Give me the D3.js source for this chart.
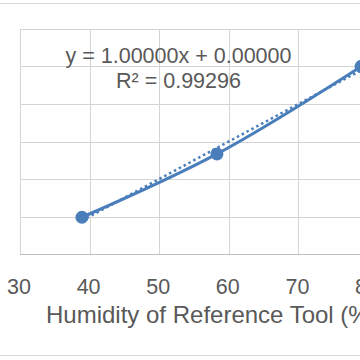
<!DOCTYPE html>
<html>
<head>
<meta charset="utf-8">
<script src="https://cdn.jsdelivr.net/npm/d3@7"></script>
<style>
  body { margin: 0; background: #fff; }
  text { font-family: "Liberation Sans", Arial, sans-serif; fill: #595959; }
</style>
</head>
<body>
<svg id="chart" width="360" height="360"></svg>
<script>
// values
const refHumidity = [38.9, 58.3, 79.0];     // x: reference tool (%)
const devHumidity = [39.8, 56.7, 80.0];     // y: device under test (%)
const xTicks = [30, 40, 50, 60, 70, 80, 90];
const yTicks = [30, 40, 50, 60, 70, 80, 90];
const trendSlope = 1.0;
const trendIntercept = 0.0;
const eqLines = ["y = 1.00000x + 0.00000", "R² = 0.99296"];
const xTitle = "Humidity of Reference Tool (%)";

const svg = d3.select("#chart");
const blue = "#4a7ebb";

svg.append("rect").attr("width", 360).attr("height", 360).attr("fill", "#fff");

// chart area border (only top and bottom are inside the crop)
svg.append("line").attr("x1", 0).attr("x2", 360).attr("y1", 3.5).attr("y2", 3.5)
    .attr("stroke", "#d9d9d9").attr("stroke-width", 1);
svg.append("line").attr("x1", 0).attr("x2", 360).attr("y1", 355.5).attr("y2", 355.5)
    .attr("stroke", "#d9d9d9").attr("stroke-width", 1);

const x = d3.scaleLinear().domain([30, 90]).range([20, 20 + 6 * 69.6]);
const y = d3.scaleLinear().domain([30, 90]).range([254, 29]);

// gridlines
svg.append("g").selectAll("line").data(xTicks).join("line")
    .attr("x1", d => Math.round(x(d)) + 0.5).attr("x2", d => Math.round(x(d)) + 0.5)
    .attr("y1", y(90)).attr("y2", y(30))
    .attr("stroke", "#d4d4d4");
svg.append("g").selectAll("line").data(yTicks).join("line")
    .attr("x1", x(30)).attr("x2", x(90))
    .attr("y1", d => Math.round(y(d)) + 0.5).attr("y2", d => Math.round(y(d)) + 0.5)
    .attr("stroke", d => d === 30 ? "#bfbfbf" : "#d4d4d4");

// x tick labels
svg.append("g").selectAll("text").data(xTicks).join("text")
    .attr("x", d => x(d) - 1)
    .attr("y", 294)
    .attr("text-anchor", "middle")
    .attr("font-size", 21.5)
    .text(d => d);

// axis title (runs past the right edge, as in the crop)
svg.append("text")
    .attr("x", 46)
    .attr("y", 323)
    .attr("font-size", 24)
    .text(xTitle);

const pts = refHumidity.map((d, i) => [d, devHumidity[i]]);

// linear trendline (dotted)
const tx = d3.extent(refHumidity);
svg.append("line")
    .attr("x1", x(tx[0])).attr("y1", y(trendSlope * tx[0] + trendIntercept))
    .attr("x2", x(tx[1])).attr("y2", y(trendSlope * tx[1] + trendIntercept))
    .attr("stroke", "#4a7ebb")
    .attr("stroke-width", 2.5)
    .attr("stroke-dasharray", "2.5,3");

// smoothed series line
const line = d3.line()
    .x(d => x(d[0]))
    .y(d => y(d[1]))
    .curve(d3.curveCatmullRom.alpha(0.5));
svg.append("path")
    .datum(pts)
    .attr("d", line)
    .attr("fill", "none")
    .attr("stroke", blue)
    .attr("stroke-width", 3);

svg.append("g").selectAll("circle").data(pts).join("circle")
    .attr("cx", d => x(d[0]))
    .attr("cy", d => y(d[1]))
    .attr("r", 6.5)
    .attr("fill", blue);

// trendline label
svg.append("g").selectAll("text").data(eqLines).join("text")
    .attr("x", 178.5)
    .attr("y", (d, i) => 63 + i * 25)
    .attr("text-anchor", "middle")
    .attr("font-size", 21.5)
    .text(d => d);
</script>
</body>
</html>
